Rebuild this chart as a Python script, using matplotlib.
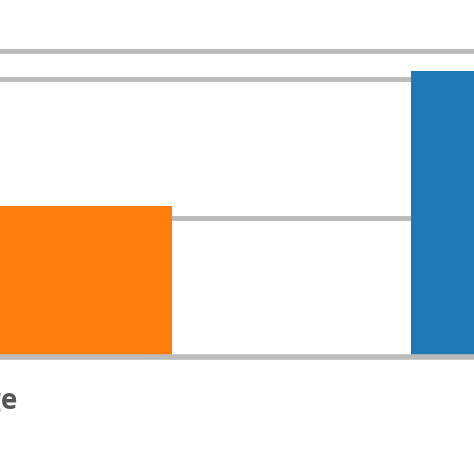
import matplotlib
matplotlib.use("Agg")
import matplotlib.pyplot as plt

categories = ["Average", "Top"]
values = [1.08, 2.06]
colors = ["#ff7f0e", "#1f77b4"]
grid_vals = [1, 2, 2.2]

fig = plt.figure(figsize=(4.74, 4.74), dpi=100)
ax = fig.add_axes([0, 0, 1, 1])
px = 597.5
x0 = 0.3 - 172 / px
ax.set_xlim(x0, x0 + 474 / px)
ax.set_ylim(-118 / 138.5, 356 / 138.5)
for g in grid_vals:
    ax.axhline(g, color="#bbbbbb", lw=3.5, zorder=1)
ax.bar(range(len(values)), values, width=0.6, color=colors, zorder=2)
ax.axhline(-0.01, color="#bbbbbb", lw=4, zorder=3)
ax.text(x0 + 17 / px, -0.33, categories[0], ha="right", va="center",
        fontsize=20, fontweight="bold", color="#555555", family="Open Sans")
ax.axis("off")
fig.savefig("out.png", dpi=100)
